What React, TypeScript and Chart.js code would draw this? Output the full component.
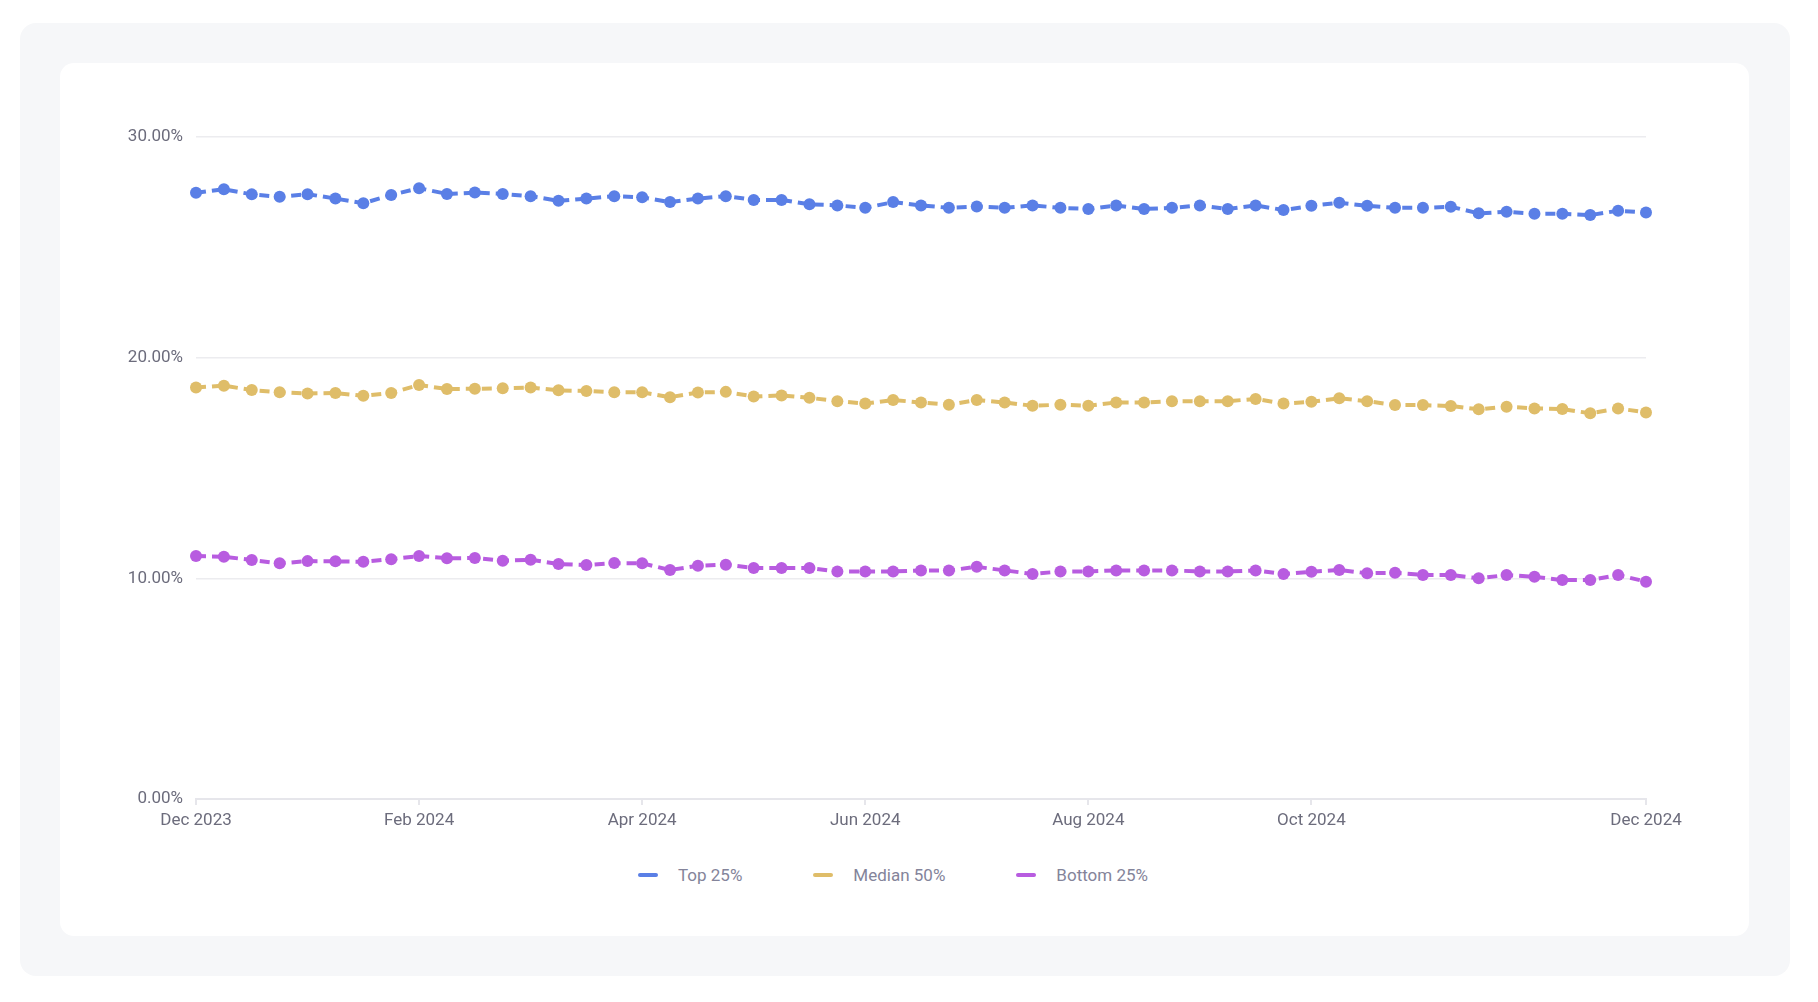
import { useEffect, useRef } from 'react';
import { Chart, registerables } from 'chart.js';

Chart.register(...registerables);

// weekly buckets, Dec 2023 -> Dec 2024
const weeks = [
  '2023-12-04', '2023-12-11', '2023-12-18', '2023-12-25', '2024-01-01', '2024-01-08', '2024-01-15', '2024-01-22',
  '2024-01-29', '2024-02-05', '2024-02-12', '2024-02-19', '2024-02-26', '2024-03-04', '2024-03-11', '2024-03-18',
  '2024-03-25', '2024-04-01', '2024-04-08', '2024-04-15', '2024-04-22', '2024-04-29', '2024-05-06', '2024-05-13',
  '2024-05-20', '2024-05-27', '2024-06-03', '2024-06-10', '2024-06-17', '2024-06-24', '2024-07-01', '2024-07-08',
  '2024-07-15', '2024-07-22', '2024-07-29', '2024-08-05', '2024-08-12', '2024-08-19', '2024-08-26', '2024-09-02',
  '2024-09-09', '2024-09-16', '2024-09-23', '2024-09-30', '2024-10-07', '2024-10-14', '2024-10-21', '2024-10-28',
  '2024-11-04', '2024-11-11', '2024-11-18', '2024-11-25', '2024-12-02',
];

const top25 = [
  27.47, 27.63, 27.40, 27.29, 27.41, 27.21, 27.00, 27.37, 27.68, 27.42, 27.48, 27.42, 27.32, 27.11, 27.21, 27.32,
  27.27, 27.05, 27.21, 27.32, 27.15, 27.15, 26.95, 26.90, 26.79, 27.05, 26.90, 26.79, 26.85, 26.79, 26.90, 26.79,
  26.74, 26.90, 26.74, 26.79, 26.90, 26.74, 26.90, 26.69, 26.88, 27.02, 26.88, 26.79, 26.79, 26.84, 26.54, 26.61,
  26.52, 26.52, 26.46, 26.66, 26.58,
];

const median50 = [
  18.65, 18.73, 18.53, 18.43, 18.38, 18.40, 18.27, 18.40, 18.76, 18.58, 18.59, 18.61, 18.65, 18.52, 18.49, 18.43,
  18.43, 18.21, 18.42, 18.45, 18.24, 18.29, 18.18, 18.03, 17.92, 18.08, 17.97, 17.87, 18.08, 17.97, 17.82, 17.87,
  17.82, 17.97, 17.97, 18.03, 18.03, 18.03, 18.13, 17.92, 18.00, 18.16, 18.03, 17.85, 17.85, 17.81, 17.66, 17.78,
  17.70, 17.67, 17.48, 17.70, 17.52,
];

const bottom25 = [
  11.01, 10.98, 10.83, 10.68, 10.78, 10.77, 10.75, 10.87, 11.01, 10.91, 10.92, 10.80, 10.84, 10.65, 10.60, 10.69,
  10.68, 10.38, 10.57, 10.62, 10.47, 10.47, 10.47, 10.31, 10.31, 10.31, 10.36, 10.36, 10.52, 10.36, 10.20, 10.31,
  10.31, 10.36, 10.36, 10.36, 10.31, 10.31, 10.36, 10.20, 10.30, 10.38, 10.23, 10.25, 10.15, 10.15, 10.00, 10.15,
  10.07, 9.92, 9.92, 10.15, 9.85,
];

// which weeks get an x label
const tickIndex = [0, 8, 16, 24, 32, 40, 52];
const tickText = ['Dec 2023', 'Feb 2024', 'Apr 2024', 'Jun 2024', 'Aug 2024', 'Oct 2024', 'Dec 2024'];

const yTicks = [0, 10, 20, 30];

const series = [
  { name: 'Top 25%', values: top25, color: '#5a7fe6' },
  { name: 'Median 50%', values: median50, color: '#dfbd69' },
  { name: 'Bottom 25%', values: bottom25, color: '#b85ce0' },
];

const FONT = 'Roboto, "Noto Sans", sans-serif';

export default function App() {
  const canvasRef = useRef<HTMLCanvasElement>(null);
  const chartRef = useRef<Chart | null>(null);

  useEffect(() => {
    if (!canvasRef.current) return;
    if (chartRef.current) chartRef.current.destroy();

    const ctx = canvasRef.current.getContext('2d');
    if (!ctx) return;

    chartRef.current = new Chart(ctx, {
      type: 'line',
      data: {
        labels: weeks,
        datasets: series.map(s => ({
          label: s.name,
          data: s.values,
          borderColor: s.color,
          backgroundColor: s.color,
          borderWidth: 4,
          borderDash: [10, 6],
          pointRadius: 6,
          pointBorderWidth: 0,
          pointBackgroundColor: s.color,
          tension: 0,
          fill: false,
        })),
      },
      options: {
        animation: false,
        responsive: true,
        maintainAspectRatio: false,
        layout: { padding: { top: 74, right: 103, left: 0, bottom: 0 } },
        plugins: {
          legend: { display: false },
          tooltip: { enabled: false },
        },
        scales: {
          x: {
            type: 'category',
            afterFit: (scale: any) => { scale.height = 40; },
            border: { display: true, color: '#e6e6eb', width: 2 },
            grid: { display: true, drawOnChartArea: false, drawTicks: true, tickLength: 6, color: '#e6e6eb', lineWidth: 2 },
            ticks: {
              autoSkip: false,
              maxRotation: 0,
              padding: 6,
              color: '#6c6c7c',
              font: { family: FONT, size: 17 },
              callback: (_v: any, i: number) => {
                const k = tickIndex.indexOf(i);
                return k >= 0 ? tickText[k] : null;
              },
            },
          },
          y: {
            min: 0,
            max: 30,
            afterFit: (scale: any) => { scale.width = 136; },
            afterBuildTicks: (scale: any) => { scale.ticks = yTicks.map(v => ({ value: v })); },
            border: { display: false },
            grid: { color: '#ececef', lineWidth: 1.5, drawTicks: false },
            ticks: {
              padding: 13,
              color: '#6c6c7c',
              font: { family: FONT, size: 17 },
              callback: (v: any) => `${Number(v).toFixed(2)}%`,
            },
          },
        },
      },
    });

    return () => {
      if (chartRef.current) {
        chartRef.current.destroy();
        chartRef.current = null;
      }
    };
  }, []);

  return (
    <div style={{ position: 'absolute', left: 0, top: 0, width: 1818, height: 1002, background: '#fff', fontFamily: FONT }}>
      <div style={{ position: 'absolute', left: 20, top: 23, width: 1770, height: 953, background: '#f6f7f9', borderRadius: 16 }} />
      <div style={{ position: 'absolute', left: 60, top: 63, width: 1689, height: 873, background: '#fff', borderRadius: 14 }} />
      <div style={{ position: 'absolute', left: 60, top: 63, width: 1689, height: 776 }}>
        <canvas ref={canvasRef}></canvas>
      </div>
      <div style={{ position: 'absolute', left: 638, top: 863, display: 'flex', alignItems: 'center', height: 24 }}>
        {series.map((s, i) => (
          <div key={s.name} style={{ display: 'flex', alignItems: 'center', marginLeft: i === 0 ? 0 : 71 }}>
            <span style={{ display: 'inline-block', width: 20, height: 4, borderRadius: 2, background: s.color }} />
            <span style={{ marginLeft: 20, fontSize: 17, color: '#84849a' }}>{s.name}</span>
          </div>
        ))}
      </div>
    </div>
  );
}
